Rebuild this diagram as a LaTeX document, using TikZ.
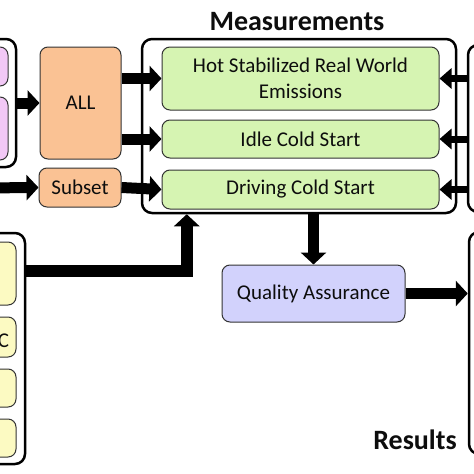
\documentclass[tikz,border=0pt]{standalone}
\usepackage{fontspec}
\setmainfont{Carlito}
\usepackage{tikz}
\usetikzlibrary{arrows.meta,positioning}

\definecolor{purplefill}{RGB}{242,200,246}
\definecolor{orangefill}{RGB}{250,194,148}
\definecolor{greenfill}{RGB}{214,244,178}
\definecolor{bluefill}{RGB}{210,210,252}
\definecolor{yellowfill}{RGB}{252,250,194}

\begin{document}
\begin{tikzpicture}[x=1pt,y=-1pt]

\tikzset{container/.style={draw=black,line width=2.5pt,rounded corners=10pt,inner sep=0},
box/.style={draw=black!80,line width=1pt,rounded corners=8pt,inner sep=0,align=center,text=black!95,font=\fontsize{21}{26}\selectfont},
titlelabel/.style={font=\fontsize{28}{32}\selectfont\bfseries,text=black!95},
bigarrow/.style={line width=11pt,-{Triangle[length=12pt,width=25pt]}},
thinarrow/.style={line width=7pt,-{Triangle[length=12pt,width=20pt]}}}

\useasboundingbox (0,0) rectangle (474,474);
\clip (0,0) rectangle (474,474);

% Source boxes (cut off on the left)
\node (src) [container,minimum width=76pt,minimum height=128pt] at (-22,103) {};
\node (src1) [box,fill=purplefill,minimum width=68pt,minimum height=39pt] at (-26,66.5) {};
\node (src2) [box,fill=purplefill,minimum width=68pt,minimum height=63pt] at (-26,128.5) {};
\coordinate (srcin) at (-20,188);

% Selection
\node (all) [box,fill=orangefill,minimum width=81pt,minimum height=112pt] at (80.5,103) {ALL};
\node (subset) [box,fill=orangefill,minimum width=82pt,minimum height=39pt] at (80,187.5) {Subset};

% Measurements
\node (meas) [container,minimum width=314pt,minimum height=174pt] at (299,126) {};
\node (measTitle) [titlelabel] at (297,22) {Measurements};
\node (hot) [box,fill=greenfill,minimum width=277pt,minimum height=63pt] at (300.5,78.5) {Hot Stabilized Real World\\Emissions};
\node (idle) [box,fill=greenfill,minimum width=277pt,minimum height=38pt,below=9pt of hot] {Idle Cold Start};
\node (drive) [box,fill=greenfill,minimum width=277pt,minimum height=39pt,below=11pt of idle] {Driving Cold Start};

% Quality assurance
\node (qa) [box,fill=bluefill,minimum width=183pt,minimum height=57pt] at (313.5,293.5) {Quality Assurance};

% Right containers (cut off on the right)
\node (model) [container,minimum width=72pt,minimum height=167pt] at (504,128.5) {};
\node (results) [container,minimum width=72pt,minimum height=222pt] at (505,343) {};
\node (resTitle) [titlelabel] at (415,440) {Results};

% Cycle boxes (cut off on the left)
\node (cyc) [container,minimum width=85pt,minimum height=231pt] at (-17.5,348.5) {};
\foreach \u/\y/\h in {cyc1/273.5/63, cyc2/337/40, cyc3/388/38, cyc4/438/38}
	\node (\u) [box,fill=yellowfill,minimum width=76pt,minimum height=\h pt] at (-22,\y) {};
\node (cycLab) [box,draw=none,anchor=east] at (9.5,340.5) {C};

%% Edges
\draw[bigarrow] (src.east) -- (all.west);
\draw[bigarrow] (srcin) -- (subset.west);
\draw[bigarrow] (all.east |- hot) -- (hot.west);
\draw[bigarrow] (all.east |- idle) -- (idle.west);
\draw[bigarrow] (subset.east) -- (drive.west);
\foreach \u in {hot, idle, drive}
	\draw[thinarrow] (model.west |- \u) -- (\u.east);
\draw[bigarrow] (meas.south -| qa) -- (qa.north);
\draw[bigarrow] (qa.east) -- (qa.east -| results.west);
\draw[bigarrow,line width=12pt] ([yshift=2.5pt]cyc1.east -| cyc.east) -| ([xshift=46pt]meas.south west);
\end{tikzpicture}
\end{document}
